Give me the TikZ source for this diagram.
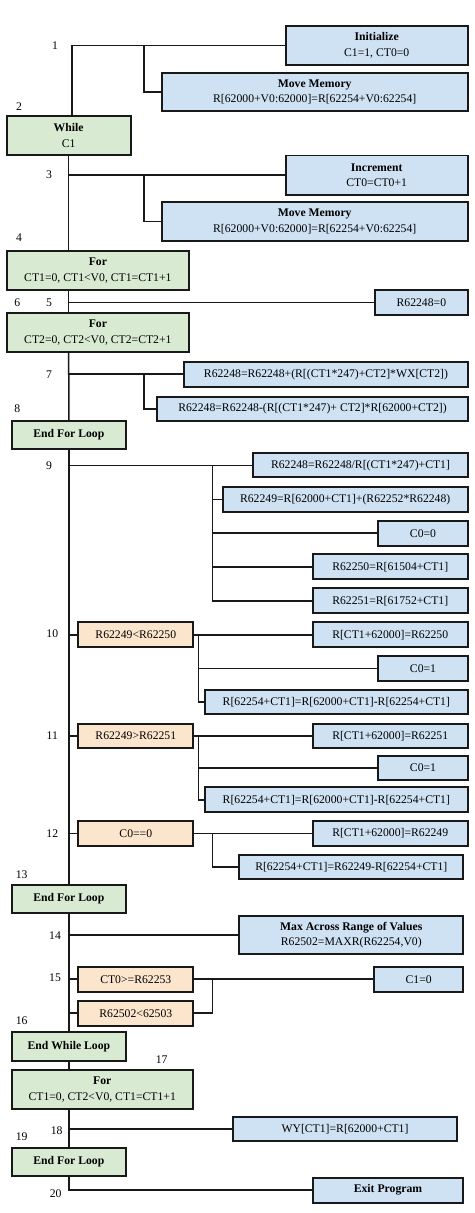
\documentclass[tikz,border=0pt]{standalone}
\usepackage{fontspec}
\setmainfont{Liberation Serif}
\definecolor{bl}{RGB}{207,226,243}
\definecolor{gr}{RGB}{217,234,211}
\definecolor{orr}{RGB}{252,229,205}
\definecolor{ln}{RGB}{25,25,25}
\newcommand\bx[7]{\node[#1, minimum width={#5-#3}, minimum height={#6-#4}] (#2) at ({(#3+#5)/2},{(#4+#6)/2}) {#7};}
\begin{document}
\begin{tikzpicture}[x=1pt,y=-1pt, font=\fontsize{11.7}{15.6}\selectfont,
  box/.style={draw=ln, line width=1.8pt, inner sep=0pt, align=center},
  bbox/.style={box, fill=bl}, gbox/.style={box, fill=gr}, obox/.style={box, fill=orr},
  conn/.style={draw=ln, line width=1.5pt},
  lab/.style={inner sep=0pt}]
\useasboundingbox (0,0) rectangle (474,1213);
% boxes
\bx{bbox}{init}{285.7}{26}{467.7}{65}{{\bfseries Initialize}\\C1=1, CT0=0}
\bx{bbox}{mm1}{161.7}{72.7}{467.7}{111}{{\bfseries Move Memory}\\R[62000+V0:62000]=R[62254+V0:62254]}
\bx{gbox}{while}{6.7}{116}{130.7}{155}{{\bfseries While}\\C1}
\bx{bbox}{inc}{285.7}{155.5}{467.7}{194.7}{{\bfseries Increment}\\CT0=CT0+1}
\bx{bbox}{mm2}{161.7}{202.3}{467.7}{240.7}{{\bfseries Move Memory}\\R[62000+V0:62000]=R[62254+V0:62254]}
\bx{gbox}{for1}{6.7}{251}{189}{290}{{\bfseries For}\\CT1=0, CT1<V0, CT1=CT1+1}
\bx{bbox}{r0}{375}{290}{467.7}{315}{R62248=0}
\bx{gbox}{for2}{6.7}{313.3}{189}{352.3}{{\bfseries For}\\CT2=0, CT2<V0, CT2=CT2+1}
\bx{bbox}{a7}{184.3}{361.7}{467.7}{386.7}{R62248=R62248+(R[(CT1*247)+CT2]*WX[CT2])}
\bx{bbox}{a7b}{157.3}{396.7}{467.7}{421}{R62248=R62248-(R[(CT1*247)+ CT2]*R[62000+CT2])}
\bx{gbox}{efl1}{11.7}{421}{126}{449}{\bfseries End For Loop}
\bx{bbox}{a9a}{253.3}{453.3}{467.7}{477.3}{R62248=R62248/R[(CT1*247)+CT1]}
\bx{bbox}{a9b}{222.7}{487.3}{467.7}{511.7}{R62249=R[62000+CT1]+(R62252*R62248)}
\bx{bbox}{a9c}{378.3}{520.7}{467.7}{545.7}{C0=0}
\bx{bbox}{a9d}{312.7}{554.3}{467.7}{579.3}{R62250=R[61504+CT1]}
\bx{bbox}{a9e}{312.7}{588.3}{467.7}{613.3}{R62251=R[61752+CT1]}
\bx{obox}{c10}{78.3}{622.3}{193.3}{647.3}{R62249<R62250}
\bx{bbox}{a10a}{312.7}{622.3}{467.7}{647.3}{R[CT1+62000]=R62250}
\bx{bbox}{a10b}{378.3}{656}{467.7}{681}{C0=1}
\bx{bbox}{a10c}{205}{690}{467.7}{714.3}{R[62254+CT1]=R[62000+CT1]-R[62254+CT1]}
\bx{obox}{c11}{78.3}{724}{193.3}{748.3}{R62249>R62251}
\bx{bbox}{a11a}{312.7}{724}{467.7}{748.3}{R[CT1+62000]=R62251}
\bx{bbox}{a11b}{378.3}{755.7}{467.7}{780}{C0=1}
\bx{bbox}{a11c}{205}{787.3}{467.7}{812.3}{R[62254+CT1]=R[62000+CT1]-R[62254+CT1]}
\bx{obox}{c12}{78.3}{821}{193.3}{846}{C0==0}
\bx{bbox}{a12a}{312.7}{821}{467.7}{846}{R[CT1+62000]=R62249}
\bx{bbox}{a12b}{239.3}{855}{463.3}{879.3}{R[62254+CT1]=R62249-R[62254+CT1]}
\bx{gbox}{efl2}{11.7}{885}{126}{913.3}{\bfseries End For Loop}
\bx{bbox}{max}{239.3}{915.7}{463.3}{954.3}{{\bfseries Max Across Range of Values}\\R62502=MAXR(R62254,V0)}
\bx{obox}{c15a}{78.3}{966.7}{193.3}{991.7}{CT0>=R62253}
\bx{bbox}{c1z}{374}{966.7}{463.3}{991.7}{C1=0}
\bx{obox}{c15b}{78.3}{1000.7}{193.3}{1025.7}{R62502<62503}
\bx{gbox}{ewl}{11.7}{1032.3}{126}{1060.7}{\bfseries End While Loop}
\bx{gbox}{for3}{11.7}{1070}{192.7}{1109.3}{{\bfseries For}\\CT1=0, CT2<V0, CT1=CT1+1}
\bx{bbox}{wy}{232.7}{1116.7}{457.3}{1141}{WY[CT1]=R[62000+CT1]}
\bx{gbox}{efl3}{11.7}{1148.3}{126}{1176}{\bfseries End For Loop}
\bx{bbox}{exit}{312.7}{1177.7}{463.3}{1202.7}{\bfseries Exit Program}
% labels
\node[lab] (l1) at (55,46) {1};
\node[lab] (l2) at (19,107) {2};
\node[lab] (l3) at (49,175) {3};
\node[lab] (l4) at (19,238) {4};
\node[lab] (l5) at (49,302.7) {5};
\node[lab] (l6) at (17.3,302.7) {6};
\node[lab] (l7) at (49,375) {7};
\node[lab] (l8) at (17.3,408.3) {8};
\node[lab] (l9) at (49,466) {9};
\node[lab] (l10) at (52.3,634) {10};
\node[lab] (l11) at (52.3,736) {11};
\node[lab] (l12) at (52.3,833.3) {12};
\node[lab] (l13) at (21.7,874.3) {13};
\node[lab] (l14) at (55,935.7) {14};
\node[lab] (l15) at (55,977.3) {15};
\node[lab] (l16) at (21.7,1020.7) {16};
\node[lab] (l17) at (161.7,1060) {17};
\node[lab] (l18) at (56.7,1131) {18};
\node[lab] (l19) at (21.7,1136.7) {19};
\node[lab] (l20) at (55.7,1194) {20};
% junction coordinates
\coordinate (s0) at (72,45.5);
\coordinate (j1) at (144,45.5);
\coordinate (j3) at (144,175.1);
\coordinate (j7) at (144,374.2);
\coordinate (j9) at (212.7,465.3);
\coordinate (j10) at (198.3,634.8);
\coordinate (j11) at (198.3,736.15);
\coordinate (j12) at (212.7,833.5);
\coordinate (j15) at (212.7,979.2);
% connectors
\draw[conn] (init.west) -- (s0) -- (s0 |- while.north);
\draw[conn] (j1) |- (mm1.west);
\draw[conn] (while.south) |- (inc.west);
\draw[conn] (j3) |- (mm2.west);
\draw[conn] (while.south) -- (while.south |- for1.north);
\draw[conn] (while.south |- for1.south) -- (while.south |- for2.north);
\draw[conn] (while.south |- r0.west) -- (r0.west);
\draw[conn] (while.south |- for2.south) -- (efl1.north);
\draw[conn] (efl1.north |- a7.west) -- (a7.west);
\draw[conn] (j7) |- (a7b.west);
\draw[conn] (efl1.south) -- (efl2.north);
\draw[conn] (efl1.south |- a9a.west) -- (a9a.west);
\draw[conn] (j9) |- (a9b.west);
\draw[conn] (j9) |- (a9c.west);
\draw[conn] (j9) |- (a9d.west);
\draw[conn] (j9) |- (a9e.west);
\draw[conn] (efl1.south |- c10.west) -- (c10.west);
\draw[conn] (c10.east) -- (a10a.west);
\draw[conn] (j10) |- (a10b.west);
\draw[conn] (j10) |- (a10c.west);
\draw[conn] (efl1.south |- c11.west) -- (c11.west);
\draw[conn] (c11.east) -- (a11a.west);
\draw[conn] (j11) |- (a11b.west);
\draw[conn] (j11) |- (a11c.west);
\draw[conn] (efl1.south |- c12.west) -- (c12.west);
\draw[conn] (c12.east) -- (a12a.west);
\draw[conn] (j12) |- (a12b.west);
\draw[conn] (efl2.south) -- (ewl.north);
\draw[conn] (efl2.south |- max.west) -- (max.west);
\draw[conn] (efl2.south |- c15a.west) -- (c15a.west);
\draw[conn] (efl2.south |- c15b.west) -- (c15b.west);
\draw[conn] (c15a.east) -- (c1z.west);
\draw[conn] (j15) |- (c15b.east);
\draw[conn] (ewl.south) -- (ewl.south |- for3.north);
\draw[conn] (efl3.north |- for3.south) -- (efl3.north);
\draw[conn] (efl3.north |- wy.west) -- (wy.west);
\draw[conn] (efl3.south) |- (exit.west);
\end{tikzpicture}
\end{document}
